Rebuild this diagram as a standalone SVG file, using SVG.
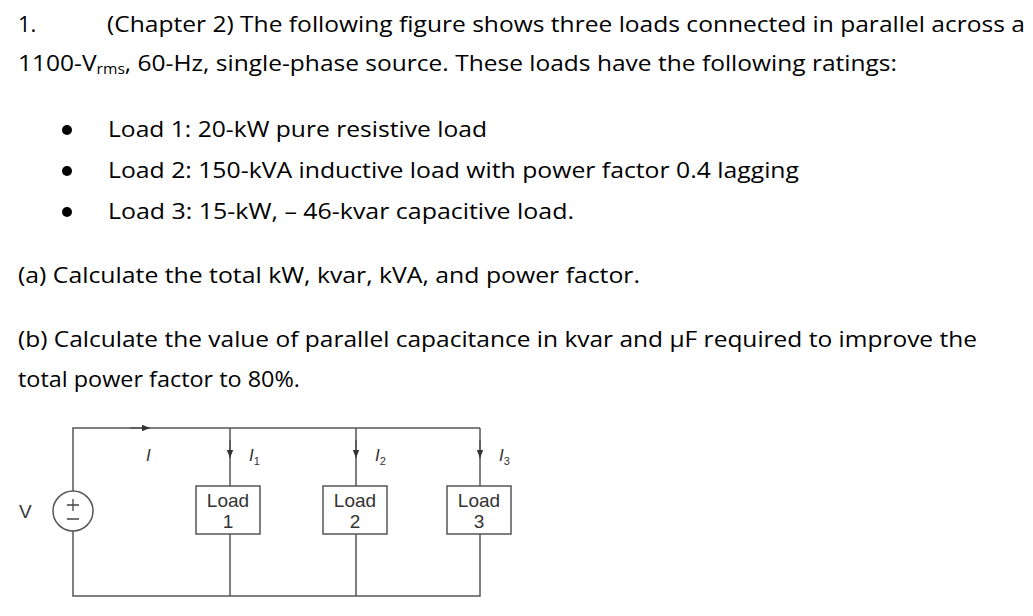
<svg xmlns="http://www.w3.org/2000/svg" width="1033" height="616" viewBox="0 0 1033 616">
<style>
.t{font-family:"Open Sans","Liberation Sans",sans-serif;font-size:22px;fill:#000}
.c{font-family:"Liberation Sans",Arial,sans-serif;font-size:19px;fill:#333}
.ci{font-family:"Liberation Sans",Arial,sans-serif;font-size:17px;font-style:italic;fill:#333}
.w{stroke:#555;stroke-width:1.5;fill:none}
.b{stroke:#555;stroke-width:1.5;fill:#fff}
</style>
<defs><marker id="a" viewBox="0 0 10 10" refX="10" refY="5" markerWidth="8" markerHeight="8" orient="auto" markerUnits="userSpaceOnUse"><path d="M0,1 L10,5 L0,9 z" fill="#333"/></marker></defs>
<rect width="1033" height="616" fill="#fff"/>
<text class="t" x="18" y="32">1.</text>
<text class="t" x="107" y="32" textLength="918" lengthAdjust="spacingAndGlyphs">(Chapter 2) The following figure shows three loads connected in parallel across a</text>
<text class="t" x="18" y="71" textLength="879" lengthAdjust="spacingAndGlyphs">1100-V<tspan font-size="14" dy="3">rms</tspan><tspan dy="-3">, 60-Hz, single-phase source. These loads have the following ratings:</tspan></text>
<g fill="#000"><circle cx="67" cy="130" r="5"/><circle cx="67" cy="171" r="5"/><circle cx="67" cy="212" r="5"/></g>
<text class="t" x="108" y="137" textLength="379" lengthAdjust="spacingAndGlyphs">Load 1: 20-kW pure resistive load</text>
<text class="t" x="108" y="178" textLength="691" lengthAdjust="spacingAndGlyphs">Load 2: 150-kVA inductive load with power factor 0.4 lagging</text>
<text class="t" x="108" y="219" textLength="466" lengthAdjust="spacingAndGlyphs">Load 3: 15-kW, – 46-kvar capacitive load.</text>
<text class="t" x="18" y="283" textLength="622" lengthAdjust="spacingAndGlyphs">(a) Calculate the total kW, kvar, kVA, and power factor.</text>
<text class="t" x="18" y="347" textLength="959" lengthAdjust="spacingAndGlyphs">(b) Calculate the value of parallel capacitance in kvar and μF required to improve the</text>
<text class="t" x="18" y="387" textLength="282" lengthAdjust="spacingAndGlyphs">total power factor to 80%.</text>
<g id="connectors" class="w">
<path d="M73,491 V428 H480 M73,531 V596 H480 V534 M480,428 V486 M230,428 V486 M230,534 V596 M356,428 V486 M356,534 V596"/>
<path d="M130,428 H150" marker-end="url(#a)"/>
<path d="M230,440 V458" marker-end="url(#a)"/>
<path d="M356,440 V458" marker-end="url(#a)"/>
<path d="M480,440 V458" marker-end="url(#a)"/>
</g>
<g id="source"><circle class="b" cx="73" cy="511" r="20"/><path d="M67,505 H79 M73,499 V511 M67,519 H79" stroke="#444" stroke-width="1.3"/></g>
<text class="c" x="19" y="518">V</text>
<text class="ci" x="146" y="461">I</text>
<text class="ci" x="249" y="461">I<tspan font-size="11" dy="4" font-style="normal">1</tspan></text>
<text class="ci" x="375" y="461">I<tspan font-size="11" dy="4" font-style="normal">2</tspan></text>
<text class="ci" x="499" y="461">I<tspan font-size="11" dy="4" font-style="normal">3</tspan></text>
<g id="load1"><rect class="b" x="196" y="486" width="64" height="48"/><text class="c" x="228" y="507" text-anchor="middle">Load</text><text class="c" x="228" y="528" text-anchor="middle">1</text></g>
<g id="load2"><rect class="b" x="323" y="486" width="64" height="48"/><text class="c" x="355" y="507" text-anchor="middle">Load</text><text class="c" x="355" y="528" text-anchor="middle">2</text></g>
<g id="load3"><rect class="b" x="447" y="486" width="64" height="48"/><text class="c" x="479" y="507" text-anchor="middle">Load</text><text class="c" x="479" y="528" text-anchor="middle">3</text></g>
</svg>
